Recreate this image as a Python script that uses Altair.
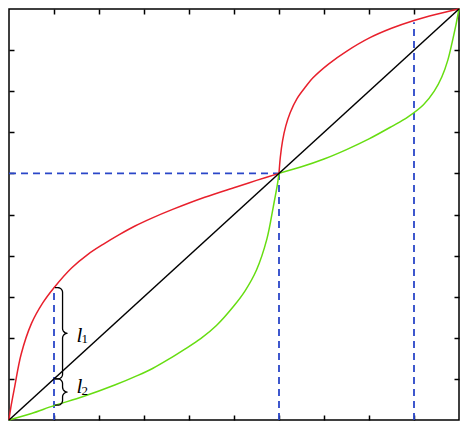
import altair as alt
import numpy as np
import pandas as pd

# ---------------- data ----------------
red_left_x = [0.0, 0.004, 0.0125, 0.027, 0.05, 0.075, 0.1, 0.139, 0.174, 0.21, 0.245, 0.28,
              0.315, 0.365, 0.435, 0.505, 0.55, 0.6]
red_left_y = [0.0, 0.03, 0.08, 0.16, 0.235, 0.285, 0.322, 0.37, 0.402, 0.428, 0.451, 0.472,
              0.49, 0.513, 0.542, 0.567, 0.583, 0.6]
red_right_x = [0.6, 0.603, 0.608, 0.615, 0.625, 0.64, 0.66, 0.675, 0.71, 0.75, 0.8, 0.85,
               0.9, 0.95, 1.0]
red_right_y = [0.6, 0.64, 0.68, 0.715, 0.748, 0.782, 0.812, 0.832, 0.866, 0.897, 0.929, 0.953,
               0.972, 0.987, 1.0]

green_left_x = [0.0, 0.05, 0.1, 0.165, 0.235, 0.285, 0.32, 0.355, 0.39, 0.426, 0.461, 0.5,
                0.525, 0.55, 0.573, 0.5875, 0.596, 0.6]
green_left_y = [0.0, 0.016, 0.035, 0.057, 0.085, 0.108, 0.126, 0.148, 0.172, 0.198, 0.23, 0.278,
                0.315, 0.365, 0.44, 0.52, 0.57, 0.6]
green_right_x = [0.6, 0.65, 0.7, 0.75, 0.8, 0.85, 0.886, 0.921, 0.945, 0.962, 0.975, 0.985,
                 0.993, 1.0]
green_right_y = [0.6, 0.616, 0.635, 0.658, 0.684, 0.714, 0.737, 0.767, 0.8, 0.835, 0.875, 0.92,
                 0.96, 1.0]

diag_x = [0.0, 1.0]
diag_y = [0.0, 1.0]

marker_x = [0.1, 0.6, 0.9]          # dashed verticals
marker_top = [0.322, 0.6, 0.968]    # where they meet the red curve
level_y = 0.6                       # dashed horizontal
level_x_end = 0.6

tick_values = [0.1, 0.2, 0.3, 0.4, 0.5, 0.6, 0.7, 0.8, 0.9]

# brace ranges at x = 0.1 : l1 from diagonal to red, l2 from green to diagonal
brace_x = 0.1
brace_l1 = (0.1, 0.322)
brace_l2 = (0.036, 0.1)

# ---------------- layout ----------------
W, H = 450, 411
RED = "#e8202c"
GREEN = "#66dd11"
BLUE = "#2a46c8"

xs = alt.Scale(domain=[0, 1], nice=False, zero=False)
ys = alt.Scale(domain=[0, 1], nice=False, zero=False)

def tick_axis(orient, offset):
    return alt.Axis(orient=orient, offset=offset, values=tick_values, labels=False,
                    domain=False, grid=False, ticks=True, tickSize=5, tickWidth=1.5,
                    tickColor="black", title=None)

# ---------------- frames ----------------
rows = []
for sx, sy, name, seg in [(red_left_x, red_left_y, "red", "r1"),
                          (red_right_x, red_right_y, "red", "r2"),
                          (green_left_x, green_left_y, "green", "g1"),
                          (green_right_x, green_right_y, "green", "g2")]:
    for a, b in zip(sx, sy):
        rows.append({"x": a, "y": b, "series": name, "seg": seg})
curves_df = pd.DataFrame(rows)

diag_df = pd.DataFrame({"x": diag_x, "y": diag_y})
vert_df = pd.DataFrame({"x": marker_x, "y0": [0.0] * len(marker_x), "y1": marker_top})
horiz_df = pd.DataFrame({"x0": [0.0], "x1": [level_x_end], "y": [level_y]})


def brace_points(x0, ybot, ytop, vert=9.0, tip=14.2, r=5.0, n=10):
    pxx, pxy = 473.2, 433.3
    h = (ytop - ybot) * pxy
    mid = h / 2.0
    ri = tip - vert
    pts = [(1.0, 0.0)]
    for t in np.linspace(-np.pi / 2, 0, n):
        pts.append((vert - r + r * np.cos(t), r + r * np.sin(t)))
    for t in np.linspace(np.pi, np.pi / 2, n):
        pts.append((vert + ri + ri * np.cos(t), mid - ri + ri * np.sin(t)))
    for t in np.linspace(-np.pi / 2, -np.pi, n):
        pts.append((vert + ri + ri * np.cos(t), mid + ri + ri * np.sin(t)))
    for t in np.linspace(0, np.pi / 2, n):
        pts.append((vert - r + r * np.cos(t), h - r + r * np.sin(t)))
    pts.append((1.0, h))
    return [(x0 + ox / pxx, ytop - oy / pxy) for ox, oy in pts]

brace_rows = []
for bid, (lo, hi) in [("l1", brace_l1), ("l2", brace_l2)]:
    for i, (a, b) in enumerate(brace_points(brace_x, lo, hi)):
        brace_rows.append({"x": a, "y": b, "brace": bid, "i": i})
brace_df = pd.DataFrame(brace_rows)

mid1 = (brace_l1[0] + brace_l1[1]) / 2
mid2 = (brace_l2[0] + brace_l2[1]) / 2
l_df = pd.DataFrame({"x": [brace_x + 23.6 / 473.2] * 2,
                     "y": [mid1 - 8.8 / 433.3, mid2 - 1.2 / 433.3],
                     "t": ["l", "l"]})
sub_df = pd.DataFrame({"x": [brace_x + 29.0 / 473.2] * 2,
                       "y": [mid1 - 10.3 / 433.3, mid2 - 2.9 / 433.3],
                       "t": ["1", "2"]})

# ---------------- layers ----------------
vert = alt.Chart(vert_df).mark_rule(color=BLUE, strokeWidth=1.8, strokeDash=[7, 5]).encode(
    x=alt.X("x:Q", scale=xs, axis=tick_axis("top", -H)),
    y=alt.Y("y0:Q", scale=ys, axis=tick_axis("right", -W)),
    y2="y1:Q",
)
horiz = alt.Chart(horiz_df).mark_rule(color=BLUE, strokeWidth=1.8, strokeDash=[7, 5]).encode(
    x=alt.X("x0:Q", scale=xs, axis=None),
    x2="x1:Q",
    y=alt.Y("y:Q", scale=ys, axis=None),
)
curves = alt.Chart(curves_df).mark_line(interpolate="catmull-rom", strokeWidth=1.5).encode(
    x=alt.X("x:Q", scale=xs, axis=None),
    y=alt.Y("y:Q", scale=ys, axis=None),
    color=alt.Color("series:N", scale=alt.Scale(domain=["red", "green"], range=[RED, GREEN]),
                    legend=None),
    detail="seg:N",
)
diag = alt.Chart(diag_df).mark_line(color="black", strokeWidth=1.5).encode(
    x=alt.X("x:Q", scale=xs, axis=tick_axis("bottom", -H)),
    y=alt.Y("y:Q", scale=ys, axis=tick_axis("left", -W)),
)
braces = alt.Chart(brace_df).mark_line(color="black", strokeWidth=1.3).encode(
    x=alt.X("x:Q", scale=xs, axis=None),
    y=alt.Y("y:Q", scale=ys, axis=None),
    detail="brace:N",
    order="i:Q",
)
l_text = alt.Chart(l_df).mark_text(font="Liberation Serif", fontStyle="italic", fontSize=21,
                                   align="left", baseline="alphabetic", color="black").encode(
    x=alt.X("x:Q", scale=xs, axis=None),
    y=alt.Y("y:Q", scale=ys, axis=None),
    text="t:N",
)
sub_text = alt.Chart(sub_df).mark_text(font="Liberation Serif", fontSize=13,
                                       align="left", baseline="alphabetic", color="black").encode(
    x=alt.X("x:Q", scale=xs, axis=None),
    y=alt.Y("y:Q", scale=ys, axis=None),
    text="t:N",
)

chart = alt.layer(vert, horiz, curves, diag, braces, l_text, sub_text).resolve_axis(
    x="independent", y="independent"
).properties(
    width=W, height=H, padding=1, autosize=alt.AutoSizeParams(type="none"),
    background="white",
).configure_view(stroke="black", strokeWidth=1.5)

chart.save("out.html", embed_options={"renderer": "svg", "actions": False})
